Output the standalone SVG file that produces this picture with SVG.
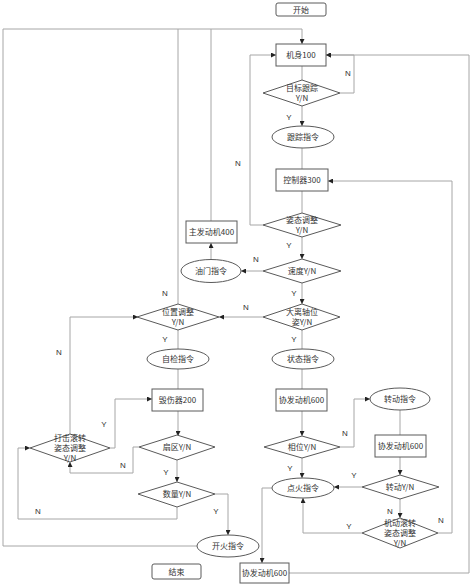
<svg xmlns="http://www.w3.org/2000/svg" width="474" height="588" viewBox="0 0 474 588">
<style>
.n{fill:#fff;stroke:#5a5a5a;stroke-width:1}
.t{font-family:"Noto Sans CJK SC","Liberation Sans",sans-serif;font-size:8px;fill:#333;text-anchor:middle}
.l{font-family:"Liberation Sans",sans-serif;font-size:8px;fill:#333;text-anchor:middle}
.c{fill:none;stroke:#a6a6a6;stroke-width:1}
</style>
<defs>
<marker id="a" markerWidth="5" markerHeight="5" refX="5" refY="2.5" orient="auto" markerUnits="userSpaceOnUse">
<path d="M0,0 L5,2.5 L0,5 Z" fill="#222"/>
</marker>
</defs>
<rect width="474" height="588" fill="#fff"/>
<g id="connectors">
<path class="c" d="M197,546 H3 V29 H302 V44" marker-end="url(#a)"/>
<path class="c" d="M178,304 V29"/>
<path class="c" d="M211,221 V29"/>
<path class="c" d="M302,66 V80"/>
<path class="c" d="M340,93 H354 V55 H326" marker-end="url(#a)"/>
<path class="c" d="M289,573 H469 V55 H326" marker-end="url(#a)"/>
<path class="c" d="M302,106 V126" marker-end="url(#a)"/>
<path class="c" d="M302,148 V169"/>
<path class="c" d="M302,191 V213"/>
<path class="c" d="M263,225 H250 V55 H276" marker-end="url(#a)"/>
<path class="c" d="M302,237 V259" marker-end="url(#a)"/>
<path class="c" d="M263,271 H241" marker-end="url(#a)"/>
<path class="c" d="M211,259.5 V243" marker-end="url(#a)"/>
<path class="c" d="M302,283 V304" marker-end="url(#a)"/>
<path class="c" d="M263,317 H219" marker-end="url(#a)"/>
<path class="c" d="M302,330 V349"/>
<path class="c" d="M302,369 V389"/>
<path class="c" d="M302,411 V436" marker-end="url(#a)"/>
<path class="c" d="M340,447 H354 V399 H370" marker-end="url(#a)"/>
<path class="c" d="M302,458 V478" marker-end="url(#a)"/>
<path class="c" d="M400,410 V435"/>
<path class="c" d="M400,457 V475" marker-end="url(#a)"/>
<path class="c" d="M362,487 H334" marker-end="url(#a)"/>
<path class="c" d="M400,499 V518" marker-end="url(#a)"/>
<path class="c" d="M362,533 H303 V498" marker-end="url(#a)"/>
<path class="c" d="M438,533 H452 V181 H328" marker-end="url(#a)"/>
<path class="c" d="M272,488 H262 V563" marker-end="url(#a)"/>
<path class="c" d="M178,330 V349"/>
<path class="c" d="M178,369 V389"/>
<path class="c" d="M178,411 V436" marker-end="url(#a)"/>
<path class="c" d="M139,447 H133 V473 H70 V462" marker-end="url(#a)"/>
<path class="c" d="M177,460 V482" marker-end="url(#a)"/>
<path class="c" d="M215,494 H228 V535" marker-end="url(#a)"/>
<path class="c" d="M177,507 V519 H18 V448 H30" marker-end="url(#a)"/>
<path class="c" d="M110,448 H115 V399 H152" marker-end="url(#a)"/>
<path class="c" d="M70,434 V317 H138" marker-end="url(#a)"/>
<text class="l" x="348" y="76">N</text>
<text class="l" x="289" y="120">Y</text>
<text class="l" x="238" y="166">N</text>
<text class="l" x="289" y="248">Y</text>
<text class="l" x="256" y="262">N</text>
<text class="l" x="294" y="296">Y</text>
<text class="l" x="246" y="310">N</text>
<text class="l" x="294" y="342">Y</text>
<text class="l" x="165" y="296">N</text>
<text class="l" x="165" y="342">Y</text>
<text class="l" x="59" y="355">N</text>
<text class="l" x="104" y="427">Y</text>
<text class="l" x="123" y="468">N</text>
<text class="l" x="166" y="475">Y</text>
<text class="l" x="216" y="514">Y</text>
<text class="l" x="38" y="514">N</text>
<text class="l" x="345" y="436">N</text>
<text class="l" x="290" y="471">Y</text>
<text class="l" x="354" y="478">Y</text>
<text class="l" x="390" y="514">N</text>
<text class="l" x="349" y="529">Y</text>
<text class="l" x="441" y="523">N</text>
</g>
<g id="start"><rect class="n" x="276" y="3" width="50" height="13" rx="2"/><text class="t" x="301" y="13">开始</text></g>
<g id="body100"><rect class="n" x="276" y="44" width="50" height="22"/><text class="t" x="301" y="58">机身100</text></g>
<g id="track-yn"><polygon class="n" points="263,93 302,80 340,93 302,106"/><text class="t" x="302" y="91">目标跟踪</text><text class="t" x="302" y="101">Y/N</text></g>
<g id="track-cmd"><ellipse class="n" cx="303" cy="137" rx="31" ry="11"/><text class="t" x="303" y="140">跟踪指令</text></g>
<g id="ctrl300"><rect class="n" x="276" y="169" width="52" height="22"/><text class="t" x="302" y="183">控制器300</text></g>
<g id="attitude-yn"><polygon class="n" points="263,225 302,213 341,225 302,237"/><text class="t" x="302" y="223">姿态调整</text><text class="t" x="302" y="233">Y/N</text></g>
<g id="speed-yn"><polygon class="n" points="263,271 302,259 341,271 302,283"/><text class="t" x="302" y="274">速度Y/N</text></g>
<g id="throttle-cmd"><ellipse class="n" cx="211" cy="271" rx="30" ry="11.5"/><text class="t" x="211" y="274">油门指令</text></g>
<g id="main400"><rect class="n" x="186" y="221" width="51" height="22"/><text class="t" x="211.5" y="235">主发动机400</text></g>
<g id="offaxis-yn"><polygon class="n" points="263,317 302,304 340,317 302,330"/><text class="t" x="302" y="315">大离轴位</text><text class="t" x="302" y="325">姿Y/N</text></g>
<g id="state-cmd"><ellipse class="n" cx="303" cy="359" rx="31" ry="10"/><text class="t" x="303" y="362">状态指令</text></g>
<g id="coeng600a"><rect class="n" x="276" y="389" width="51" height="22"/><text class="t" x="301.5" y="403">协发动机600</text></g>
<g id="phase-yn"><polygon class="n" points="264,447 302,436 340,447 302,458"/><text class="t" x="302" y="450">相位Y/N</text></g>
<g id="ignite-cmd"><ellipse class="n" cx="303" cy="488" rx="31" ry="10"/><text class="t" x="303" y="491">点火指令</text></g>
<g id="coeng600c"><rect class="n" x="240" y="563" width="49" height="20"/><text class="t" x="264.5" y="576">协发动机600</text></g>
<g id="rotate-cmd"><ellipse class="n" cx="400" cy="399" rx="30" ry="11"/><text class="t" x="400" y="402">转动指令</text></g>
<g id="coeng600b"><rect class="n" x="375" y="435" width="51" height="22"/><text class="t" x="400.5" y="449">协发动机600</text></g>
<g id="rotate-yn"><polygon class="n" points="362,487 400,475 439,487 400,499"/><text class="t" x="400" y="490">转动Y/N</text></g>
<g id="maneuver-yn"><polygon class="n" points="362,533 400,518 438,533 400,548"/><text class="t" x="400" y="526">机动滚转</text><text class="t" x="400" y="536">姿态调整</text><text class="t" x="400" y="546">Y/N</text></g>
<g id="position-yn"><polygon class="n" points="137,317 178,304 219,317 178,330"/><text class="t" x="178" y="315">位置调整</text><text class="t" x="178" y="325">Y/N</text></g>
<g id="selfcheck-cmd"><ellipse class="n" cx="178" cy="359" rx="31" ry="10"/><text class="t" x="178" y="362">自检指令</text></g>
<g id="damage200"><rect class="n" x="152" y="389" width="51" height="22"/><text class="t" x="177.5" y="403">毁伤器200</text></g>
<g id="sector-yn"><polygon class="n" points="139,447 177,435 215,447 177,460"/><text class="t" x="177" y="450">扇区Y/N</text></g>
<g id="count-yn"><polygon class="n" points="138,494 177,482 215,494 177,507"/><text class="t" x="177" y="497">数量Y/N</text></g>
<g id="strike-yn"><polygon class="n" points="30,448 70,434 110,448 70,462"/><text class="t" x="70" y="441">打击滚转</text><text class="t" x="70" y="451">姿态调整</text><text class="t" x="70" y="461">Y/N</text></g>
<g id="fire-cmd"><ellipse class="n" cx="228" cy="546" rx="31" ry="11"/><text class="t" x="228" y="549">开火指令</text></g>
<g id="end"><rect class="n" x="152" y="564" width="49" height="15" rx="2"/><text class="t" x="176.5" y="575">结束</text></g>
</svg>
